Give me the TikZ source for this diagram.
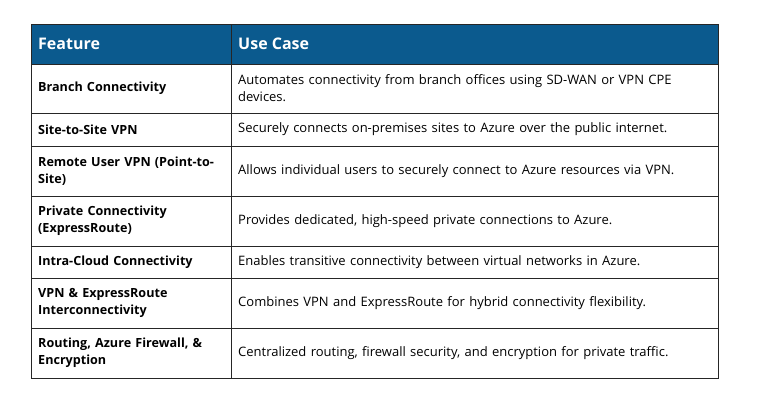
\documentclass[tikz,border=0pt]{standalone}
\usepackage{fontspec}
\setmainfont{Open Sans}
\definecolor{headblue}{HTML}{0B5A8E}
\tikzset{
  head/.style={anchor=west, text=white, inner sep=0pt, font=\fontsize{16}{19}\selectfont\bfseries},
  feat/.style={anchor=west, align=left, text width=190pt, inner sep=0pt, font=\fontsize{12.6}{17}\selectfont\bfseries},
  usec/.style={anchor=west, align=left, text width=475pt, inner sep=0pt, font=\fontsize{13}{17}\selectfont},
}
\begin{document}
\begin{tikzpicture}[x=1pt,y=-1pt]
  \useasboundingbox (0,0) rectangle (768,402);
  \fill[headblue] (31,24) rectangle (718,64);
  % grid lines
  \foreach \y in {64,113,146,196,246,278,328}
    \draw[black!85, line width=0.9pt] (31,\y) -- (718,\y);
  \draw[black!85, line width=0.9pt] (231,24) -- (231,378);
  \draw[black!85, line width=0.9pt] (31,24) rectangle (718,378);

  \node[head] (hfeat) at (38,44) {Feature};
  \node[head] (huse) at (238,44) {Use Case};

  \node[feat] (f1) at (38,88.5) {Branch Connectivity};
  \node[usec] (u1) at (238,88.5) {Automates connectivity from branch offices using SD-WAN or VPN CPE\\devices.};
  \node[feat] (f2) at (38,129.5) {Site-to-Site VPN};
  \node[usec] (u2) at (238,129.5) {Securely connects on-premises sites to Azure over the public internet.};
  \node[feat] (f3) at (38,171) {Remote User VPN (Point-to-\\Site)};
  \node[usec] (u3) at (238,171) {Allows individual users to securely connect to Azure resources via VPN.};
  \node[feat] (f4) at (38,221) {Private Connectivity\\(ExpressRoute)};
  \node[usec] (u4) at (238,221) {Provides dedicated, high-speed private connections to Azure.};
  \node[feat] (f5) at (38,262) {Intra-Cloud Connectivity};
  \node[usec] (u5) at (238,262) {Enables transitive connectivity between virtual networks in Azure.};
  \node[feat] (f6) at (38,303) {VPN \& ExpressRoute\\Interconnectivity};
  \node[usec] (u6) at (238,303) {Combines VPN and ExpressRoute for hybrid connectivity flexibility.};
  \node[feat] (f7) at (38,353) {Routing, Azure Firewall, \&\\Encryption};
  \node[usec] (u7) at (238,353) {Centralized routing, firewall security, and encryption for private traffic.};
\end{tikzpicture}
\end{document}
